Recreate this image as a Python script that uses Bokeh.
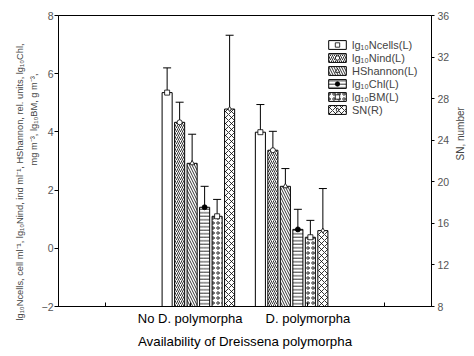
import math
from bokeh.plotting import figure
from bokeh.layouts import row
from bokeh.models import (Range1d, LinearAxis, FixedTicker, Whisker, TeeHead,
                          ColumnDataSource, Legend, LegendItem, Title)
from bokeh.embed import file_html
from bokeh.resources import INLINE

# ---------------- data ----------------
groups = ["No D. polymorpha", "D. polymorpha"]
group_pos = [1, 2]
x_ticks = [0, 0.912, 2.174, 3]
left_ticks = [-2, 0, 2, 4, 6, 8]
right_ticks = [8, 12, 16, 20, 24, 28, 32, 36]

series_labels = ["lg₁₀Ncells(L)", "lg₁₀Nind(L)", "HShannon(L)",
                 "lg₁₀Chl(L)", "lg₁₀BM(L)", "SN(R)"]

ncells_mean = [5.35, 3.99]
ncells_err = [0.85, 0.95]
nind_mean = [4.33, 3.37]
nind_err = [0.69, 0.65]
hsh_mean = [2.92, 2.13]
hsh_err = [1.00, 0.61]
chl_mean = [1.41, 0.65]
chl_err = [0.72, 0.69]
bm_mean = [1.10, 0.38]
bm_err = [0.58, 0.58]
sn_mean = [27.0, 15.3]
sn_err = [7.1, 4.05]

means = [ncells_mean, nind_mean, hsh_mean, chl_mean, bm_mean, sn_mean]
errs = [ncells_err, nind_err, hsh_err, chl_err, bm_err, sn_err]

y_label_1 = "lg₁₀Ncells, cell ml⁻¹, lg₁₀Nind, ind ml⁻¹, HShannon, rel. units, lg₁₀Chl,"
y_label_2 = "mg m⁻³, lg₁₀BM, g m⁻³,"
y2_label = "SN, number"
x_label = "Availability of Dreissena polymorpha"

# ---------------- style ----------------
FONT = "Liberation Sans"
offsets = [-0.335 + 0.134 * k for k in range(6)]
bar_w = 0.108
hatches = [" ", "/", "\\", "-", "o", "x"]
hscales = [8, 4, 5, 3.5, 5, 6]
markers = ["square", "circle", "triangle", "circle", "square", "diamond"]
mfill = ["white", "white", "white", "black", "white", "white"]

p = figure(width=452, height=352, output_backend="svg", toolbar_location=None,
           x_range=Range1d(-0.5, 3.5), y_range=Range1d(-2, 8),
           min_border_left=58, min_border_right=20, min_border_top=15,
           min_border_bottom=46)
p.extra_y_ranges = {"right": Range1d(8, 36)}
p.xgrid.visible = False
p.ygrid.visible = False
p.outline_line_color = "black"
p.outline_line_width = 1
p.background_fill_color = "white"
p.border_fill_color = "white"

items = []
for k in range(6):
    rname = "right" if k == 5 else "default"
    base = 8 if k == 5 else -2
    xs = [g + offsets[k] for g in group_pos]
    up = [m + e for m, e in zip(means[k], errs[k])]
    lo = [m - e for m, e in zip(means[k], errs[k])]
    src = ColumnDataSource(dict(x=xs, top=means[k], up=up, lo=lo))
    r = p.vbar(x="x", top="top", bottom=base, width=bar_w, source=src,
               fill_color="white", line_color="black", line_width=1,
               hatch_pattern=hatches[k], hatch_color="black",
               hatch_scale=hscales[k], hatch_weight=0.8,
               y_range_name=rname)
    w = Whisker(base="x", upper="up", lower="lo", source=src,
                upper_head=TeeHead(size=8, line_color="black", line_width=1),
                lower_head=None, line_color="black", line_width=1,
                y_range_name=rname)
    p.add_layout(w)
    m = p.scatter(x="x", y="top", source=src, marker=markers[k], size=5,
                  fill_color=mfill[k], line_color="black", line_width=0.8,
                  y_range_name=rname)
    items.append(LegendItem(label=series_labels[k], renderers=[r, m]))

legend = Legend(items=items, location=(268, 190), border_line_color=None,
                background_fill_alpha=0, padding=2, margin=0, spacing=0,
                glyph_width=22, glyph_height=11, label_standoff=4,
                label_text_font=FONT, label_text_font_size="11px",
                label_height=13)
p.add_layout(legend, "center")

# x axis
xa = p.xaxis[0]
xa.ticker = FixedTicker(ticks=x_ticks)
xa.major_label_overrides = {x_ticks[0]: "", x_ticks[1]: groups[0],
                            x_ticks[2]: groups[1], x_ticks[3]: ""}
xa.major_tick_in = 4
xa.major_tick_out = 0
xa.minor_tick_line_color = None
xa.axis_label = x_label
xa.axis_label_text_font = FONT
xa.axis_label_text_font_style = "normal"
xa.axis_label_text_font_size = "13.3px"
xa.axis_label_text_color = "black"
xa.major_label_text_font = FONT
xa.major_label_text_font_size = "13px"
xa.major_label_text_color = "black"
xa.major_label_standoff = 4
xa.axis_label_standoff = 5

# left axis
ya = p.yaxis[0]
ya.ticker = FixedTicker(ticks=left_ticks)
ya.major_tick_in = 0
ya.major_tick_out = 4
ya.minor_tick_line_color = None
ya.major_label_text_font = FONT
ya.major_label_text_font_size = "10.5px"
ya.major_label_text_color = "#555555"
ya.major_label_standoff = 1
ya.axis_label_standoff = 0

# left titles (two lines of the left axis title)
t2 = Title(text=y_label_2, align="left", offset=141, standoff=0,
           text_font=FONT, text_font_size="9.3px", text_font_style="normal",
           text_color="#444444")
p.add_layout(t2, "left")
t1 = Title(text=y_label_1, align="left", offset=-14, standoff=4,
           text_font=FONT, text_font_size="9.3px", text_font_style="normal",
           text_color="#444444")
p.add_layout(t1, "left")

# right axis (ticks and labels only)
ra = LinearAxis(y_range_name="right", ticker=FixedTicker(ticks=right_ticks))
ra.major_tick_in = 0
ra.major_tick_out = 3
ra.minor_tick_line_color = None
ra.major_label_text_font = FONT
ra.major_label_text_font_size = "10.5px"
ra.major_label_text_color = "#555555"
ra.major_label_standoff = 3
p.add_layout(ra, "right")

# narrow strip holding the right-axis title, reading bottom to top
p2 = figure(width=22, height=352, output_backend="svg", toolbar_location=None,
            x_range=Range1d(0, 1), y_range=Range1d(0, 1),
            min_border_left=0, min_border_right=0, min_border_top=15,
            min_border_bottom=46)
p2.axis.visible = False
p2.grid.visible = False
p2.outline_line_color = None
p2.background_fill_color = "white"
p2.border_fill_color = "white"
p2.add_layout(Title(text=y2_label, align="left", offset=146, standoff=0,
                    text_font=FONT, text_font_size="10px",
                    text_font_style="normal", text_color="#444444"), "left")

layout = row(p, p2, spacing=0)
open("out.html", "w").write(file_html(layout, INLINE))
